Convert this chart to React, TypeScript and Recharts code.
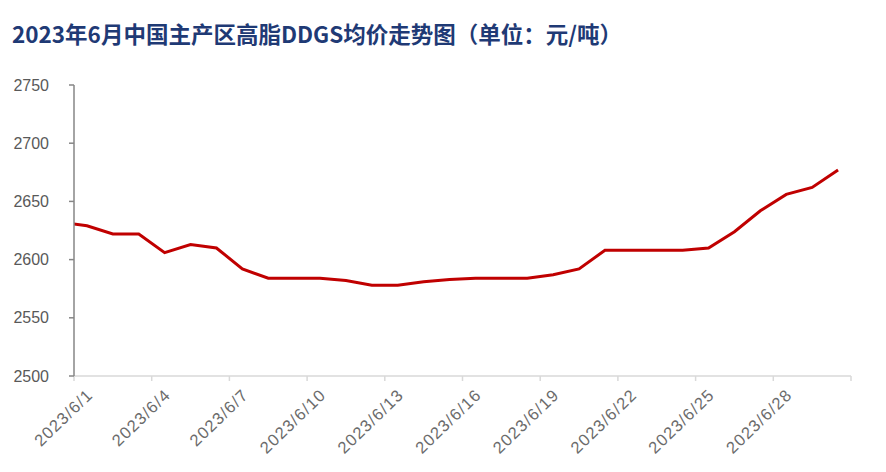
import { LineChart, Line, XAxis, YAxis } from "recharts";

// one point per day, 5/31 sits left of the axis and is clipped away
const dates = [
  "2023/5/31", "2023/6/1", "2023/6/2", "2023/6/3", "2023/6/4", "2023/6/5", "2023/6/6", "2023/6/7",
  "2023/6/8", "2023/6/9", "2023/6/10", "2023/6/11", "2023/6/12", "2023/6/13", "2023/6/14", "2023/6/15",
  "2023/6/16", "2023/6/17", "2023/6/18", "2023/6/19", "2023/6/20", "2023/6/21", "2023/6/22", "2023/6/23",
  "2023/6/24", "2023/6/25", "2023/6/26", "2023/6/27", "2023/6/28", "2023/6/29", "2023/6/30",
];
const prices = [
  2632, 2629, 2622, 2622, 2606, 2613, 2610, 2592,
  2584, 2584, 2584, 2582, 2578, 2578, 2581, 2583,
  2584, 2584, 2584, 2587, 2592, 2608, 2608, 2608,
  2608, 2610, 2624, 2642, 2656, 2662, 2677,
];
const xTicks = [0, 3, 6, 9, 12, 15, 18, 21, 24, 27, 30];
const xTickLabels = [
  "2023/6/1", "2023/6/4", "2023/6/7", "2023/6/10", "2023/6/13", "2023/6/16",
  "2023/6/19", "2023/6/22", "2023/6/25", "2023/6/28", "",
];
const yTicks = [2500, 2550, 2600, 2650, 2700, 2750];

const TITLE = "2023年6月中国主产区高脂DDGS均价走势图（单位：元/吨）";

// each day is a slot, the point sits in the middle of it
const data = dates.map((d, i) => ({ date: d, day: i - 0.5, price: prices[i] }));

function XTick(props: any) {
  const { x, y, index } = props;
  const label = xTickLabels[index] ?? "";
  const tx = x + 20;
  const ty = y + 15;
  return (
    <text
      x={tx}
      y={ty}
      transform={`rotate(-44 ${tx} ${ty})`}
      textAnchor="end"
      fill="#6b6b6b"
      fontSize={16.5}
      letterSpacing={1.2}
      fontFamily="Liberation Sans, Arial, sans-serif"
    >
      {label}
    </text>
  );
}

export default function App() {
  return (
    <div style={{ position: "absolute", left: 0, top: 0, width: 886, height: 472, background: "#fff" }}>
      <div
        style={{
          position: "absolute",
          left: 12,
          top: 18,
          fontFamily: "'Noto Sans CJK SC', sans-serif",
          fontWeight: 700,
          fontSize: 22.5,
          color: "#1F3A75",
          whiteSpace: "nowrap",
          lineHeight: "30px",
        }}
      >
        {TITLE}
      </div>
      <LineChart
        width={886}
        height={472}
        data={data}
        margin={{ top: 85, right: 35, left: 0, bottom: 0 }}
        style={{ position: "absolute", left: 0, top: 0 }}
      >
        <XAxis
          dataKey="day"
          type="number"
          domain={[0, 30]}
          ticks={xTicks}
          allowDataOverflow
          interval={0}
          height={96}
          tickSize={5}
          tickMargin={0}
          axisLine={{ stroke: "#d9d9d9", strokeWidth: 1.5 }}
          tickLine={{ stroke: "#d9d9d9", strokeWidth: 1.5 }}
          tick={<XTick />}
        />
        <YAxis
          type="number"
          domain={[2500, 2750]}
          ticks={yTicks}
          width={74}
          tickSize={5}
          tickMargin={20}
          axisLine={{ stroke: "#868686", strokeWidth: 1.5 }}
          tickLine={{ stroke: "#868686", strokeWidth: 1.5 }}
          tick={{ fill: "#595959", fontSize: 16, fontFamily: "Liberation Sans, Arial, sans-serif" }}
        />
        <Line
          type="linear"
          dataKey="price"
          stroke="#C00000"
          strokeWidth={3}
          dot={false}
          activeDot={false}
          isAnimationActive={false}
        />
      </LineChart>
    </div>
  );
}
